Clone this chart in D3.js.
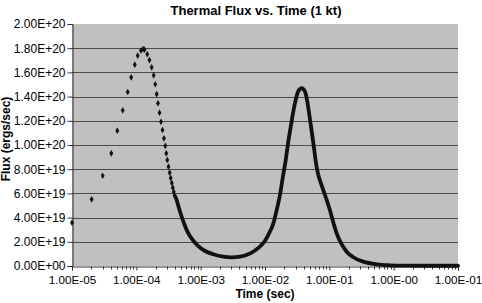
<!DOCTYPE html>
<html>
<head>
<meta charset="utf-8">
<script src="https://cdn.jsdelivr.net/npm/d3@7"></script>
<style>
  html, body { margin: 0; padding: 0; background: #fff; }
  svg { display: block; }
  text { font-family: "Liberation Sans", Arial, sans-serif; fill: #000; }
</style>
</head>
<body>
<svg id="chart" width="482" height="303"></svg>
<script>
// ---- Data ----
const chartTitle = "Thermal Flux vs. Time (1 kt)";
const xTitle = "Time (sec)";
const yTitle = "Flux (ergs/sec)";

// time in seconds
const time = [
  1.0e-5, 2.02e-5, 3.0e-5, 4.08e-5, 5.06e-5, 6.14e-5, 7.34e-5, 8.32e-5, 9.46e-5, 1.05e-4,
  1.18e-4, 1.27e-4, 1.34e-4, 1.48e-4, 1.60e-4, 1.73e-4, 1.86e-4, 1.97e-4, 2.07e-4, 2.17e-4,
  2.29e-4, 2.42e-4, 2.55e-4, 2.69e-4, 2.82e-4, 2.92e-4, 3.03e-4, 3.16e-4, 3.30e-4, 3.42e-4,
  3.56e-4, 3.69e-4, 3.82e-4, 3.95e-4,
  4.24e-4, 4.61e-4, 5.07e-4, 5.71e-4, 6.43e-4, 7.69e-4, 9.19e-4, 1.17e-3, 1.57e-3, 2.25e-3,
  3.04e-3, 4.09e-3, 5.50e-3, 7.0e-3, 8.67e-3, 1.0e-2, 1.12e-2, 1.35e-2, 1.52e-2, 1.71e-2,
  1.88e-2, 2.10e-2, 2.30e-2, 2.54e-2, 2.75e-2, 3.0e-2, 3.30e-2, 3.72e-2, 4.19e-2, 4.55e-2,
  4.89e-2, 5.33e-2, 5.78e-2, 6.21e-2, 6.74e-2, 7.62e-2, 8.88e-2, 1.03e-1, 1.16e-1, 1.30e-1,
  1.56e-1, 1.86e-1, 2.36e-1, 3.38e-1, 5.45e-1, 8.78e-1, 1.6, 3.0, 6.0, 10.0
];
// thermal flux in ergs/sec
const flux = [
  3.58e19, 5.51e19, 7.46e19, 9.31e19, 1.118e20, 1.287e20, 1.438e20, 1.559e20, 1.664e20, 1.738e20,
  1.781e20, 1.793e20, 1.789e20, 1.750e20, 1.702e20, 1.642e20, 1.576e20, 1.502e20, 1.421e20, 1.345e20,
  1.267e20, 1.192e20, 1.124e20, 1.055e20, 9.92e19, 9.31e19, 8.76e19, 8.21e19, 7.71e19, 7.27e19,
  6.86e19, 6.47e19, 6.12e19, 5.81e19,
  5.45e19, 4.77e19, 4.07e19, 3.31e19, 2.70e19, 2.09e19, 1.65e19, 1.24e19, 9.7e18, 7.7e18,
  7.2e18, 7.7e18, 9.7e18, 1.28e19, 1.69e19, 2.09e19, 2.56e19, 3.53e19, 4.63e19, 5.87e19,
  7.25e19, 8.76e19, 1.027e20, 1.165e20, 1.275e20, 1.372e20, 1.446e20, 1.469e20, 1.440e20, 1.358e20,
  1.248e20, 1.110e20, 9.73e19, 8.49e19, 7.52e19, 6.65e19, 5.62e19, 4.55e19, 3.55e19, 2.70e19,
  1.78e19, 1.18e19, 7.2e18, 3.6e18, 1.4e18, 6e17, 3e17, 2e17, 2e17, 2e17
];
// points from this time onward are so dense they merge into a continuous band
const denseFrom = 3.9e-4;

const yTicks = [0, 2e19, 4e19, 6e19, 8e19, 1e20, 1.2e20, 1.4e20, 1.6e20, 1.8e20, 2e20];
const yTickLabels = ["0.00E+00","2.00E+19","4.00E+19","6.00E+19","8.00E+19","1.00E+20",
                     "1.20E+20","1.40E+20","1.60E+20","1.80E+20","2.00E+20"];
const xTicks = [1e-5, 1e-4, 1e-3, 1e-2, 1e-1, 1, 10];
const xTickLabels = ["1.00E-05","1.00E-04","1.00E-03","1.00E-02","1.00E-01","1.00E-00","1.00E-01"];

// ---- Layout ----
const plot = { left: 72, right: 458, top: 24, bottom: 266 };
const svg = d3.select("#chart");

const x = d3.scaleLog().domain([1e-5, 10]).range([plot.left, plot.right]);
const y = d3.scaleLinear().domain([0, 2e20]).range([plot.bottom, plot.top]);

// plot background
svg.append("rect")
  .attr("x", plot.left).attr("y", plot.top)
  .attr("width", plot.right - plot.left).attr("height", plot.bottom - plot.top)
  .attr("fill", "#c0c0c0");

// horizontal gridlines
svg.append("g")
  .selectAll("line")
  .data(yTicks.filter(v => v > 0 && v < 2e20))
  .join("line")
  .attr("x1", plot.left).attr("x2", plot.right)
  .attr("y1", d => Math.round(y(d)) + 0.5).attr("y2", d => Math.round(y(d)) + 0.5)
  .attr("stroke", "#4a4a4a").attr("stroke-width", 1);

// Y axis
const yAxis = d3.axisLeft(y).tickValues(yTicks)
  .tickFormat((d, i) => yTickLabels[i]).tickSize(5).tickPadding(2);
const gy = svg.append("g").attr("transform", `translate(${plot.left + 0.5},0)`).call(yAxis);
gy.select(".domain").attr("stroke", "#333");
gy.selectAll(".tick line").attr("stroke", "#333");
gy.selectAll(".tick text")
  .style("font-size", "12px")
  .style("font-family", '"Liberation Sans", Arial, sans-serif')
  .attr("fill", "#111");

// X axis: major ticks
const xAxis = d3.axisBottom(x).tickValues(xTicks)
  .tickFormat((d, i) => xTickLabels[i]).tickSize(4).tickPadding(5);
const gx = svg.append("g").attr("transform", `translate(0,${plot.bottom + 0.5})`).call(xAxis);
gx.select(".domain").attr("stroke", "#333");
gx.selectAll(".tick line").attr("stroke", "#333");
gx.selectAll(".tick text")
  .style("font-size", "11.7px")
  .style("font-family", '"Liberation Sans", Arial, sans-serif')
  .attr("fill", "#111");

// X axis: minor ticks
const minor = [];
for (let e = -5; e < 1; e++) for (let m = 2; m <= 9; m++) minor.push(m * Math.pow(10, e));
svg.append("g")
  .selectAll("line")
  .data(minor)
  .join("line")
  .attr("x1", d => Math.round(x(d)) + 0.5).attr("x2", d => Math.round(x(d)) + 0.5)
  .attr("y1", plot.bottom + 0.5).attr("y2", plot.bottom + 3.5)
  .attr("stroke", "#333").attr("stroke-width", 1);

// data
const pts = time.map((t, i) => ({ t, f: flux[i] }));
const line = d3.line().x(d => x(d.t)).y(d => y(d.f)).curve(d3.curveMonotoneX);
svg.append("path")
  .datum(pts.filter(d => d.t >= denseFrom))
  .attr("d", line)
  .attr("fill", "none")
  .attr("stroke", "#111")
  .attr("stroke-width", 3.8)
  .attr("stroke-linejoin", "round")
  .attr("stroke-linecap", "round");

const sym = d3.symbol().type(d3.symbolDiamond).size(13);
svg.append("g")
  .selectAll("path")
  .data(pts.filter(d => d.t < denseFrom))
  .join("path")
  .attr("transform", d => `translate(${x(d.t)},${y(d.f)})`)
  .attr("d", sym)
  .attr("fill", "#111");

// titles
svg.append("text")
  .attr("x", 256).attr("y", 15)
  .attr("text-anchor", "middle")
  .style("font-size", "13px").style("font-weight", "bold")
  .text(chartTitle);

svg.append("text")
  .attr("x", 265).attr("y", 298)
  .attr("text-anchor", "middle")
  .style("font-size", "12px").style("font-weight", "bold")
  .text(xTitle);

svg.append("text")
  .attr("transform", "translate(10,139) rotate(-90)")
  .attr("text-anchor", "middle")
  .style("font-size", "12px").style("font-weight", "bold")
  .text(yTitle);
</script>
</body>
</html>
